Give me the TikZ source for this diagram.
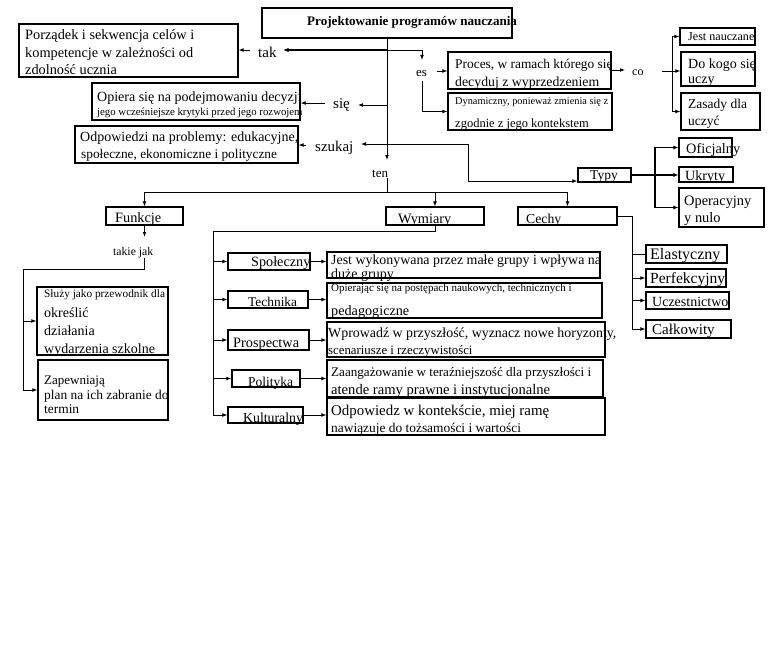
\documentclass[tikz,border=0pt]{standalone}
\usepackage{fontspec}
\setmainfont{Liberation Serif}
\usetikzlibrary{arrows.meta,fit}
\newcommand{\fs}[1]{\fontsize{#1}{#1}\selectfont}
\newcommand{\bx}[5]{\node[box, fit={(#2,#3) (#4,#5)}] (#1) {};}
\newcommand{\tx}[5]{\node[txt, font=\fs{#2}] (#1) at (#3,#4) {#5};}
\tikzset{
  box/.style={draw, line width=1.1pt, inner sep=0pt},
  txt/.style={inner sep=0pt, anchor=base west},
  ln/.style={line width=0.9pt},
  arr/.style={ln, -{Latex[length=5pt,width=3.8pt]}},
  tarr/.style={line width=1.8pt, -{Latex[length=5.5pt,width=4.4pt]}},
  tln/.style={line width=1.5pt},
}
\begin{document}
\begin{tikzpicture}[x=1pt,y=-1pt]
\useasboundingbox (0,0) rectangle (768,669);
\fill[white] (0,0) rectangle (768,669);

% ---------- boxes and texts ----------
\bx{title}{262}{8}{512}{38}
\tx{titleT}{13.1}{307}{26}{\bfseries Projektowanie programów nauczania}

\bx{porz}{19}{24}{238}{77}
\tx{porzA}{14.3}{25}{39.5}{Porządek i sekwencja celów i}
\tx{porzB}{14.3}{25}{57}{kompetencje w zależności od}
\tx{porzC}{14.3}{25}{74.5}{zdolność ucznia}

\bx{opiera}{92}{83}{300}{120}
\tx{opieraA}{14}{97}{101}{Opiera się na podejmowaniu decyzji}
\tx{opieraB}{10.8}{97}{115}{jego wcześniejsze krytyki przed jego rozwojem}

\bx{odp}{75}{126}{298}{163}
\tx{odpA}{14}{80}{141.5}{Odpowiedzi na problemy: edukacyjne,}
\tx{odpB}{13.3}{81}{158}{społeczne, ekonomiczne i polityczne}

\bx{proces}{448}{52}{611}{89}
\tx{procesA}{13.4}{455}{68}{Proces, w ramach którego się}
\tx{procesB}{13.8}{455}{86.5}{decyduj z wyprzedzeniem}

\bx{dyn}{448}{93}{612}{130}
\tx{dynA}{10.3}{455}{104.5}{Dynamiczny, ponieważ zmienia się z}
\tx{dynB}{12.5}{455}{127}{zgodnie z jego kontekstem}

\bx{jest}{680}{28}{755}{45}
\tx{jestT}{12.1}{688}{40.5}{Jest nauczane}
\bx{dokogo}{681}{52}{755}{86}
\tx{dokogoA}{14}{688}{69}{Do kogo się}
\tx{dokogoB}{14}{688}{84}{uczy}
\bx{zasady}{681}{93}{760}{130}
\tx{zasadyA}{13.5}{688}{108}{Zasady dla}
\tx{zasadyB}{13.5}{688}{125}{uczyć}

\bx{typy}{578}{168}{631}{182}
\tx{typyT}{13.5}{590}{179}{Typy}
\bx{ofic}{679}{138}{732}{157}
\tx{oficT}{14.3}{686}{153}{Oficjalny}
\bx{ukryty}{679}{167}{733}{182}
\tx{ukrytyT}{14.1}{685}{180}{Ukryty}
\bx{operac}{679}{188}{764}{227}
\tx{operacA}{14.4}{684}{205}{Operacyjny}
\tx{operacB}{14.4}{684}{222}{y nulo}

\bx{funkcje}{106}{207}{183}{225}
\tx{funkcjeT}{14.3}{115}{222}{Funkcje}
\bx{wymiary}{386}{207}{484}{225}
\tx{wymiaryT}{14.3}{398}{223}{Wymiary}
\bx{cechy}{518}{207}{617}{225}
\tx{cechyT}{13.7}{526}{223}{Cechy}

\bx{elast}{646}{245}{727}{263}
\tx{elastT}{16}{650}{259}{Elastyczny}
\bx{perf}{646}{269}{726}{287}
\tx{perfT}{15.5}{650}{283}{Perfekcyjny}
\bx{uczest}{646}{292}{729}{309}
\tx{uczestT}{14}{652}{306}{Uczestnictwo}
\bx{calk}{646}{320}{731}{338}
\tx{calkT}{15}{652}{334}{Całkowity}

\bx{spol}{228}{253}{310}{270}
\tx{spolT}{14.2}{251}{266}{Społeczny}
\bx{tech}{228}{291}{308}{308}
\tx{techT}{13.4}{248}{306}{Technika}
\bx{prosp}{228}{330}{309}{350}
\tx{prospT}{14.3}{233}{347}{Prospectwa}
\bx{polit}{232}{370}{300}{387}
\tx{politT}{13.5}{248}{386}{Polityka}
\bx{kult}{228}{407}{303}{423}
\tx{kultT}{13.8}{243}{422}{Kulturalny}

\bx{dA}{327}{252}{600}{278}
\tx{dAa}{13.9}{331}{264.5}{Jest wykonywana przez małe grupy i wpływa na}
\tx{dAb}{14}{331}{278}{duże grupy}
\bx{dB}{327}{283}{602}{318}
\tx{dBa}{11}{331}{291.5}{Opierając się na postępach naukowych, technicznych i}
\tx{dBb}{14.2}{331}{315}{pedagogiczne}
\bx{dC}{327}{322}{605}{357}
\tx{dCa}{13.9}{328}{337}{Wprowadź w przyszłość, wyznacz nowe horyzonty,}
\tx{dCb}{12.8}{328}{354}{scenariusze i rzeczywistości}
\bx{dD}{327}{360}{603}{397}
\tx{dDa}{13.1}{331}{376}{Zaangażowanie w teraźniejszość dla przyszłości i}
\tx{dDb}{14.6}{331}{394}{atende ramy prawne i instytucjonalne}
\bx{dE}{327}{398}{605}{435}
\tx{dEa}{14.9}{331}{415}{Odpowiedz w kontekście, miej ramę}
\tx{dEb}{13.4}{331}{432}{nawiązuje do tożsamości i wartości}

\bx{sluzy}{37}{287}{168}{355}
\tx{sluzyA}{11.3}{44}{297}{Służy jako przewodnik dla}
\tx{sluzyB}{14}{44}{317}{określić}
\tx{sluzyC}{14}{44}{335}{działania}
\tx{sluzyD}{14}{44}{353}{wydarzenia szkolne}
\bx{zapew}{38}{360}{168}{420}
\tx{zapewA}{13}{44}{384}{Zapewniają}
\tx{zapewB}{13.4}{44}{399}{plan na ich zabranie do}
\tx{zapewC}{13.4}{44}{413}{termin}

% ---------- free labels ----------
\tx{tak}{15}{258}{57}{tak}
\tx{es}{13}{416}{77}{es}
\tx{sie}{15}{333}{108.5}{się}
\tx{szukaj}{14.9}{315}{151}{szukaj}
\tx{ten}{13}{372}{177}{ten}
\tx{co}{12}{632}{75.5}{co}
\tx{takie}{11.7}{113}{255}{takie jak}

% ---------- junction coordinates ----------
\coordinate (mEnd) at (387,160);
\coordinate (jMain) at (387,50);
\coordinate (jEs) at (422,50);
\coordinate (esTop) at (422,60);
\coordinate (esBot) at (422,81);
\coordinate (takR) at (283,50);
\coordinate (takL) at (250,50);
\coordinate (esR) at (437,71);
\coordinate (coL) at (625,70);
\coordinate (coR) at (662,71);
\coordinate (jCo) at (672,71);
\coordinate (sieR0) at (387,105);
\coordinate (sieR) at (358,105);
\coordinate (sieL) at (325,103);
\coordinate (jSz) at (468,144);
\coordinate (szR) at (361,144);
\coordinate (szL) at (306,145);
\coordinate (tenB) at (387,178);
\coordinate (jTen) at (387,192);
\coordinate (jTy) at (655,175);
\coordinate (fArr) at (144.5,237);
\coordinate (tkB) at (144.5,258);
\coordinate (jF) at (23,269);
\coordinate (jW) at (213,231);
\coordinate (cx) at (632,216);

% ---------- connectors ----------
\draw[arr] (title.south) -- (mEnd);
\draw[tarr] (jMain) -- (takR);
\draw[ln] (jMain) -- (jEs);
\draw[arr] (takL) -- (porz.east |- takL);
\draw[arr] (jEs) -- (esTop);
\draw[arr] (esBot) |- (dyn.west);
\draw[arr] (esR) -- (proces.west |- esR);
\draw[arr] (proces.east |- coL) -- (coL);
\draw[ln] (coR) -- (jCo);
\draw[arr] (jCo) |- (jest.west);
\draw[arr] (jCo) -- (dokogo.west |- jCo);
\draw[arr] (jCo) |- (zasady.west);

\draw[arr] (sieR0) -- (sieR);
\draw[arr] (sieL) -- (opiera.east |- sieL);

\draw[arr] (jSz) -- (szR);
\draw[arr] (jSz) |- ([yshift=1.5pt]typy.south west);
\draw[arr] (szL) -- (odp.east |- szL);

\draw[ln] (tenB) -- (jTen);
\draw[arr] (jTen) -| (funkcje.north);
\draw[arr] (jTen) -| (wymiary.north);
\draw[arr] (jTen) -| (cechy.north);

\draw[tln] (typy.east) -- (jTy);
\draw[tln, -{Latex[length=5pt,width=4pt]}] (jTy) |- (ofic.west);
\draw[tln, -{Latex[length=5pt,width=4pt]}] (jTy) -- (ukryty.west |- jTy);
\draw[tln, -{Latex[length=5pt,width=4pt]}] (jTy) |- (operac.west);

\draw[arr] (funkcje.south) -- (fArr);
\draw[ln] (tkB) |- (jF);
\draw[arr] (jF) |- (sluzy.west);
\draw[arr] (jF) |- (zapew.west);

\draw[ln] (wymiary.south) |- (jW);
\draw[arr] (jW) |- (spol.west);
\draw[arr] (jW) |- (tech.west);
\draw[arr] (jW) |- (prosp.west);
\draw[arr] (jW) |- (polit.west);
\draw[arr] (jW) |- (kult.west);
\draw[arr] (spol.east) -- (spol.east -| dA.west);
\draw[arr] (tech.east) -- (tech.east -| dB.west);
\draw[arr] (prosp.east) -- (prosp.east -| dC.west);
\draw[arr] (polit.east) -- (polit.east -| dD.west);
\draw[arr] (kult.east) -- (kult.east -| dE.west);

\draw[ln] (cechy.east) -| (cx |- calk.west);
\draw[ln] (cx |- elast.west) -- (elast.west);
\draw[arr] (cx |- perf.west) -- (perf.west);
\draw[tln, -{Latex[length=5pt,width=4pt]}] (cx |- uczest.west) -- (uczest.west);
\draw[arr] (cx |- calk.west) -- (calk.west);
\end{tikzpicture}
\end{document}
